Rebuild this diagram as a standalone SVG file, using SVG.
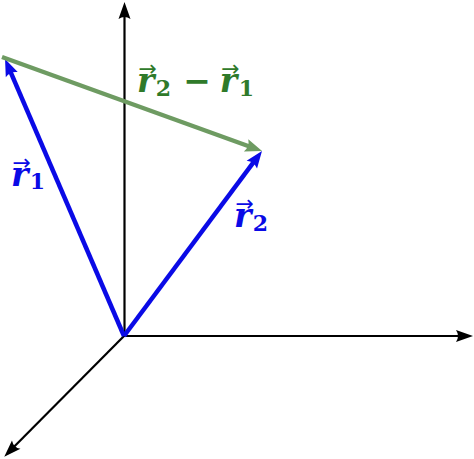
<svg xmlns="http://www.w3.org/2000/svg" width="474" height="459" viewBox="0 0 474 459">
<style>
.axis{stroke:#000;stroke-width:2.2;fill:none}
.blue{stroke:#0a0ae6;stroke-width:4.5;fill:none}
.green{stroke:#6e9b62;stroke-width:4.5;fill:none}
.lbl{font-family:"DejaVu Serif","Liberation Serif",serif;font-weight:bold;font-size:33px}
.v{font-style:italic}
.s{font-size:22px}
.ar{font-family:"DejaVu Sans",sans-serif;font-size:22px;font-weight:normal}
.bl{fill:#0a0ae6}
.gl{fill:#2f7a2a}
</style>
<defs>
<marker id="ak" markerUnits="userSpaceOnUse" markerWidth="20" markerHeight="16" viewBox="0 -8 18 16" refX="8" refY="0" orient="auto"><path d="M17,0 L0,-6 Q4,0 0,6 Z" fill="#000"/></marker>
<marker id="ab" markerUnits="userSpaceOnUse" markerWidth="20" markerHeight="16" viewBox="0 -8 18 16" refX="8" refY="0" orient="auto"><path d="M17,0 L0,-6.5 Q4,0 0,6.5 Z" fill="#0a0ae6"/></marker>
<marker id="ag" markerUnits="userSpaceOnUse" markerWidth="20" markerHeight="16" viewBox="0 -8 18 16" refX="8" refY="0" orient="auto"><path d="M17,0 L0,-6.5 Q4,0 0,6.5 Z" fill="#6e9b62"/></marker>
</defs>
<g id="connectors">
<line class="axis" x1="124.5" y1="337" x2="124.5" y2="11" marker-end="url(#ak)"/>
<line class="axis" x1="124" y1="336" x2="464" y2="336" marker-end="url(#ak)"/>
<line class="axis" x1="125" y1="335" x2="10.6" y2="450.3" marker-end="url(#ak)"/>
<line class="blue" x1="124" y1="336" x2="8.6" y2="67.3" marker-end="url(#ab)"/>
<line class="blue" x1="124" y1="336" x2="256.6" y2="158.2" marker-end="url(#ab)"/>
<line class="green" x1="2" y1="57" x2="253.6" y2="148" marker-end="url(#ag)"/>
</g>
<g id="label-r1" class="lbl bl">
<text x="11" y="186"><tspan class="v">r</tspan><tspan class="ar" dx="-16" dy="-16">→</tspan><tspan class="s" dx="-1" dy="19">1</tspan></text>
</g>
<g id="label-r2" class="lbl bl">
<text x="234" y="227"><tspan class="v">r</tspan><tspan class="ar" dx="-16" dy="-16">→</tspan><tspan class="s" dx="-1" dy="20">2</tspan></text>
</g>
<g id="label-diff" class="lbl gl">
<text x="137" y="92"><tspan class="v">r</tspan><tspan class="ar" dx="-16" dy="-16">→</tspan><tspan class="s" dx="-1" dy="20">2</tspan><tspan dx="12" dy="-4">−</tspan><tspan class="v" dx="9">r</tspan><tspan class="ar" dx="-16" dy="-16">→</tspan><tspan class="s" dx="-1" dy="20">1</tspan></text>
</g>
</svg>
